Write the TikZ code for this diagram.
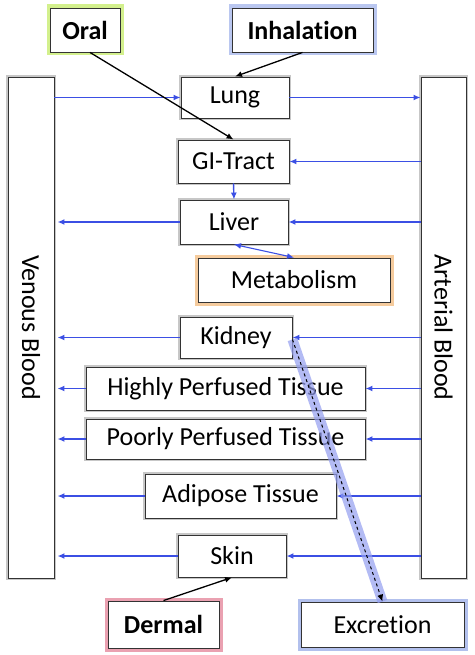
\documentclass[tikz,border=0pt]{standalone}
\usepackage{fontspec}
\setmainfont{Carlito}[Ligatures=NoCommon]
\usepackage{tikz}
\usetikzlibrary{arrows.meta}

\definecolor{flowblue}{HTML}{3B4FE4}
\definecolor{oralglow}{HTML}{C8EC70}
\definecolor{inhalglow}{HTML}{A9B9EC}
\definecolor{metabglow}{HTML}{F2BE84}
\definecolor{dermglow}{HTML}{E58A9E}
\definecolor{excrglow}{HTML}{9FB0E8}

\tikzset{
  organ/.style={draw=black!80, line width=0.9pt, fill=white, inner sep=0pt,
    preaction={draw=black!22, line width=4pt},
    font=\fontsize{26}{30}\selectfont},
  glow/.style={draw=black!80, line width=0.9pt, fill=white, inner sep=0pt,
    preaction={draw=#1, line width=7pt, opacity=0.8},
    font=\fontsize{26}{30}\selectfont},
  flow/.style={draw=flowblue, line width=1.4pt, -{Latex[length=7pt,width=6pt]}},
  feed/.style={draw=black, line width=1.3pt, -{Latex[length=7pt,width=6pt]}}
}

\begin{document}
\begin{tikzpicture}[x=1pt, y=-1pt]
\useasboundingbox (0,0) rectangle (474,655);

% routes of entry and exit
\node[glow=oralglow, minimum width=70, minimum height=44, font=\fontsize{26}{30}\selectfont\bfseries](Oral) at (85,30) {Oral};
\node[glow=inhalglow, minimum width=141, minimum height=44, font=\fontsize{26}{30}\selectfont\bfseries](Inhal) at (302.5,30) {Inhalation};
\node[glow=dermglow, minimum width=111, minimum height=47, font=\fontsize{26}{30}\selectfont\bfseries](Dermal) at (163.5,624.5) {Dermal};
\node[glow=excrglow, minimum width=163, minimum height=45](Excr) at (382.5,624.5) {Excretion};

% blood pools (turned: north is the right side)
\node[organ, rotate=-90, minimum width=501, minimum height=46](Venous) at (31,327.5) {Venous Blood};
\node[organ, rotate=-90, minimum width=501, minimum height=45](Arterial) at (443.5,327.5) {Arterial Blood};

% compartments
\node[organ, minimum width=108, minimum height=41](Lung) at (235,97.5) {Lung};
\node[organ, minimum width=111, minimum height=43](GI) at (233.5,161.5) {GI-Tract};
\node[organ, minimum width=108, minimum height=44](Liver) at (234,222) {Liver};
\node[glow=metabglow, minimum width=192, minimum height=44](Metab) at (294,280) {Metabolism};
\node[organ, minimum width=112, minimum height=41](Kidney) at (236,337.5) {Kidney};
\node[organ, minimum width=279, minimum height=43](Highly) at (225.5,388.5) {Highly Perfused Tissue};
\node[organ, minimum width=279, minimum height=40](Poorly) at (225.5,439) {Poorly Perfused Tissue};
\node[organ, minimum width=191, minimum height=44](Adipose) at (240.5,496) {Adipose Tissue};
\node[organ, minimum width=108, minimum height=42](Skin) at (232,556) {Skin};

% blood flow
\path (Venous.north |- Lung.west) edge[flow] (Lung.west);
\path (Lung.east) edge[flow] (Arterial.south |- Lung.east);
\path (Arterial.south |- GI.east) edge[flow] (GI.east);
\path (GI.south) edge[flow] (Liver.north);
\foreach \o in {Liver,Kidney,Highly,Poorly,Adipose,Skin} {
  \path (\o.west) edge[flow, shorten >=3pt] (Venous.north |- \o.west);
  \path (Arterial.south |- \o.east) edge[flow] (\o.east);
}
\path (Liver.south) edge[flow, line width=1.1pt, {Latex[length=7pt,width=6pt]}-{Latex[length=7pt,width=6pt]}] (Metab.north);

% uptake and loss
\path ([xshift=5pt]Oral.south) edge[feed] (GI.north);
\path (Inhal.south) edge[feed] (Lung.north);
\path (Dermal.north) edge[feed] (Skin.south);
\draw[feed, dashed, line width=1pt,
  preaction={draw=flowblue!55, solid, line width=10pt, opacity=0.7, arrows=-}]
  ([yshift=-2pt]Kidney.east) -- (Excr.north);
\end{tikzpicture}
\end{document}
